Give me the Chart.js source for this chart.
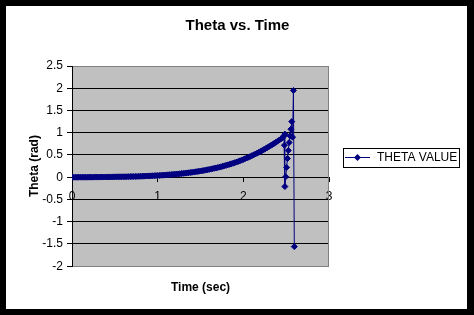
<!DOCTYPE html>
<html><head><meta charset="utf-8">
<script src="https://cdn.jsdelivr.net/npm/chart.js@4.4.1/dist/chart.umd.min.js"></script>
<style>
html,body{margin:0;padding:0;background:#000;width:474px;height:315px;overflow:hidden;}
#wrap{position:absolute;left:6px;top:6px;width:461px;height:303px;background:#fff;}
canvas{display:block;}
</style></head><body>
<div id="wrap"><canvas id="c"></canvas></div>
<script>
const chartTitle = 'Theta vs. Time';
const xAxisTitle = 'Time (sec)';
const yAxisTitle = 'Theta (rad)';
const seriesLabel = 'THETA VALUE';

const timeSec = [
  0.00,0.02,0.04,0.06,0.08,0.10,0.12,0.14,0.16,0.18,0.20,0.22,0.24,0.26,0.28,0.30,
  0.32,0.34,0.36,0.38,0.40,0.42,0.44,0.46,0.48,0.50,0.52,0.54,0.56,0.58,0.60,0.62,
  0.64,0.66,0.68,0.70,0.72,0.74,0.76,0.78,0.80,0.82,0.84,0.86,0.88,0.90,0.92,0.94,
  0.96,0.98,1.00,1.02,1.04,1.06,1.08,1.10,1.12,1.14,1.16,1.18,1.20,1.22,1.24,1.26,
  1.28,1.30,1.32,1.34,1.36,1.38,1.40,1.42,1.44,1.46,1.48,1.50,1.52,1.54,1.56,1.58,
  1.60,1.62,1.64,1.66,1.68,1.70,1.72,1.74,1.76,1.78,1.80,1.82,1.84,1.86,1.88,1.90,
  1.92,1.94,1.96,1.98,2.00,2.02,2.04,2.06,2.08,2.10,2.12,2.14,2.16,2.18,2.20,2.22,
  2.24,2.26,2.28,2.30,2.32,2.34,2.36,2.38,2.40,2.42,2.44,2.46,
  2.475,2.485,2.48,2.485,2.495,2.505,2.515,2.525,2.535,2.545,2.555,2.565,2.575,2.585,2.595
];
const thetaRad = [
  0.000,0.000,0.000,0.000,0.001,0.001,0.001,0.001,0.001,0.002,0.002,0.002,0.002,0.003,0.003,0.003,
  0.003,0.004,0.004,0.005,0.005,0.006,0.006,0.007,0.007,0.008,0.008,0.009,0.009,0.010,0.010,0.011,
  0.012,0.013,0.014,0.015,0.016,0.017,0.018,0.020,0.021,0.023,0.024,0.026,0.027,0.029,0.030,0.032,
  0.034,0.036,0.038,0.041,0.043,0.046,0.048,0.051,0.054,0.057,0.060,0.064,0.067,0.071,0.074,0.078,
  0.082,0.087,0.091,0.096,0.100,0.105,0.110,0.116,0.121,0.127,0.133,0.140,0.146,0.153,0.160,0.168,
  0.175,0.183,0.191,0.200,0.208,0.217,0.226,0.236,0.246,0.257,0.267,0.279,0.290,0.302,0.314,0.327,
  0.340,0.354,0.368,0.384,0.400,0.416,0.432,0.449,0.466,0.484,0.502,0.521,0.540,0.560,0.580,0.601,
  0.622,0.644,0.666,0.689,0.712,0.736,0.760,0.785,0.810,0.836,0.862,0.888,
  0.93,0.97,0.72,-0.21,0.01,0.22,0.42,0.60,0.78,0.93,1.08,1.25,0.90,1.95,-1.56
];
const xTickValues = [0, 1, 2, 3];
const yTickValues = [-2, -1.5, -1, -0.5, 0, 0.5, 1, 1.5, 2, 2.5];

const navy = '#000080';
Chart.defaults.font.family = 'Arial, "Liberation Sans", sans-serif';
Chart.defaults.color = '#000';

// legend symbol: line with diamond
const sym = document.createElement('canvas');
sym.width = 32; sym.height = 9;
(function(){
  const g = sym.getContext('2d');
  g.strokeStyle = navy; g.lineWidth = 1;
  g.beginPath(); g.moveTo(6, 4.5); g.lineTo(31, 4.5); g.stroke();
  g.fillStyle = navy;
  g.beginPath(); g.moveTo(18.5, 1); g.lineTo(22, 4.5); g.lineTo(18.5, 8); g.lineTo(15, 4.5); g.closePath(); g.fill();
})();

const points = timeSec.map((t, i) => ({x: t, y: thetaRad[i]}));

const plotDecor = {
  id: 'plotDecor',
  beforeLayout(chart) {
    const lg = chart.legend;
    if (lg && !lg._fixedFit) {
      const orig = lg.fit.bind(lg);
      lg.fit = function () { orig(); this.width = 140; };
      lg._fixedFit = true;
    }
  },
  beforeDraw(chart) {
    const {ctx, chartArea: a} = chart;
    ctx.save();
    ctx.fillStyle = '#c0c0c0';
    ctx.fillRect(a.left, a.top, a.right - a.left, a.bottom - a.top);
    ctx.restore();
  },
  afterDraw(chart) {
    const {ctx, chartArea: a} = chart;
    ctx.save();
    ctx.strokeStyle = '#808080'; ctx.lineWidth = 1;
    ctx.beginPath();
    const rx = Math.round(a.right) - 0.5;
    ctx.moveTo(rx, a.top); ctx.lineTo(rx, a.bottom); ctx.stroke();
    const lg = chart.legend;
    if (lg && lg.legendHitBoxes && lg.legendHitBoxes.length) {
      const hb = lg.legendHitBoxes[0];
      const cy = hb.top + hb.height / 2;
      const x1 = Math.round(hb.left + 4) + 0.5;
      const x2 = Math.round(hb.left + hb.width + 2) + 0.5;
      const y1 = Math.round(cy - 9.5) + 0.5;
      const y2 = Math.round(cy + 9.5) + 0.5;
      ctx.strokeStyle = '#000';
      ctx.strokeRect(x1, y1, x2 - x1, y2 - y1);
    }
    ctx.restore();
  }
};

const numLabel = v => String(v);

new Chart(document.getElementById('c'), {
  type: 'scatter',
  data: {
    datasets: [{
      label: seriesLabel,
      data: points,
      showLine: true,
      borderColor: navy,
      borderWidth: 1,
      backgroundColor: navy,
      pointStyle: 'rectRot',
      pointRadius: 3,
      pointBorderWidth: 1,
      pointBackgroundColor: navy,
      pointBorderColor: navy,
      xAxisID: 'x',
      yAxisID: 'y'
    }]
  },
  options: {
    animation: false,
    responsive: true,
    maintainAspectRatio: false,
    devicePixelRatio: 1,
    layout: {padding: {left: 0, top: 0, right: -2, bottom: 0}},
    plugins: {
      title: {
        display: true, text: chartTitle, color: '#000',
        font: {size: 15, weight: 'bold'},
        padding: {top: 11, bottom: 31}
      },
      legend: {
        display: true, position: 'right', align: 'center',
        labels: {
          usePointStyle: true, pointStyle: sym, pointStyleWidth: 32,
          font: {size: 12}, color: '#000', padding: 10
        }
      },
      tooltip: {enabled: false}
    },
    scales: {
      x: {
        type: 'linear', position: {y: 0},
        min: 0, max: 3,
        afterBuildTicks: s => { s.ticks = xTickValues.map(v => ({value: v})); },
        ticks: {font: {size: 12}, color: '#000', padding: 8, maxRotation: 0, autoSkip: false, callback: numLabel},
        grid: {display: true, drawOnChartArea: false, drawTicks: true, tickLength: 4, tickColor: '#000', color: '#000'},
        border: {display: true, color: '#000', width: 1}
      },
      xb: {
        type: 'linear', position: 'bottom', axis: 'x',
        min: 0, max: 3,
        ticks: {display: false},
        grid: {display: false, drawTicks: false},
        border: {display: false},
        title: {display: true, text: xAxisTitle, color: '#000', font: {size: 12, weight: 'bold'}, padding: {top: 14.6, bottom: 13.8}}
      },
      y: {
        type: 'linear', position: 'left',
        min: -2, max: 2.5,
        afterBuildTicks: s => { s.ticks = yTickValues.map(v => ({value: v})); },
        afterFit: s => { s.width = 66; },
        ticks: {font: {size: 12}, color: '#000', padding: 4, autoSkip: false, callback: numLabel},
        grid: {
          display: true, drawTicks: true, tickLength: 5, tickColor: '#000',
          color: c => (c.tick && (c.tick.value === 2.5 || c.tick.value === -2)) ? '#808080' : '#000'
        },
        border: {display: true, color: '#000', width: 1},
        title: {display: true, text: yAxisTitle, color: '#000', font: {size: 12, weight: 'bold'}, padding: {top: 21.8, bottom: 0}}
      }
    }
  },
  plugins: [plotDecor]
});
</script>
</body></html>
